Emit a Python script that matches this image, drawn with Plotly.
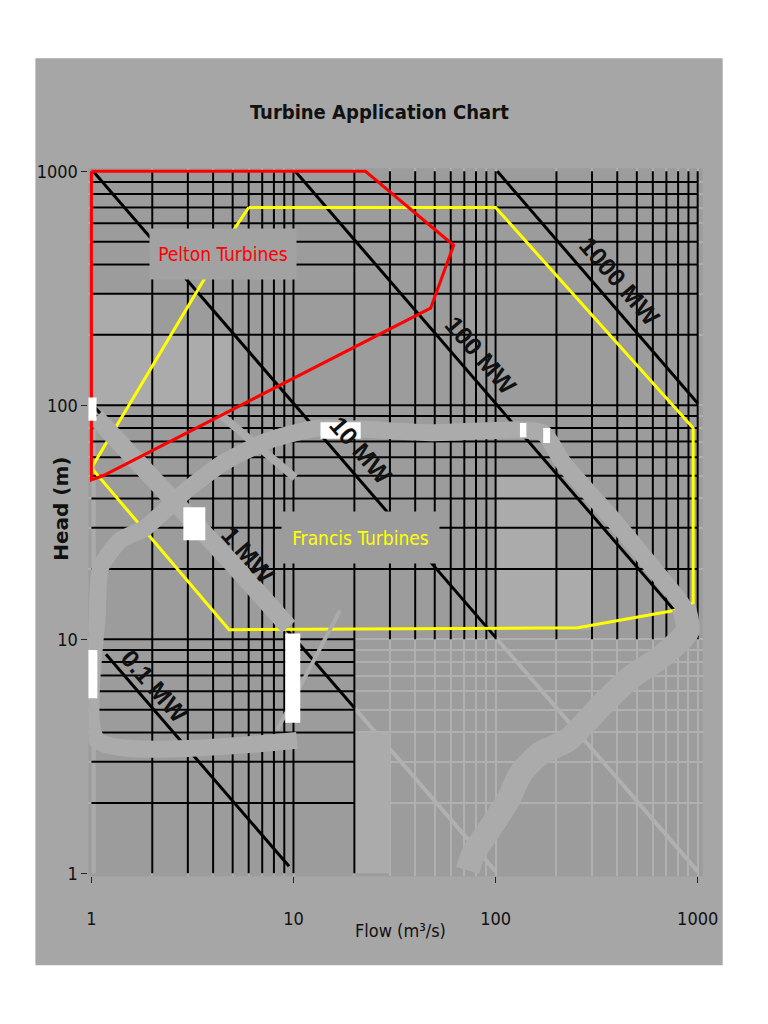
import numpy as np
import plotly.graph_objects as go

# axis ticks and grid (log decades)
tick_vals = [1, 10, 100, 1000]
tick_text = ["1", "10", "100", "1000"]
grid_vals = [2, 3, 4, 5, 6, 7, 8, 9, 10, 20, 30, 40, 50, 60, 70, 80, 90,
             100, 200, 300, 400, 500, 600, 700, 800, 900, 1000]

# power lines  P[kW] = 9.81 * Q * H
power_mw = [0.1, 1, 10, 100, 1000]
power_text = ["0.1 MW", "1 MW", "10 MW", "100 MW", "1000 MW"]
power_q_from = [1.18, 1.0, 1.02, 10.2, 102]
power_q_to = [9.5, 20, 100, 1000, 1000]
label_q = [2.05, 5.98, 21.5, 84.3, 411]
label_h = [6.3, 22.9, 64.2, 163.6, 339]
# faded parts of the lines in the lower right corner
fade_mw = [1, 10]
fade_q_from = [20, 100]
fade_q_to = [100, 1000]

# Pelton envelope
pelton_q = [1, 22.7, 62, 47.7, 1.14, 1, 1]
pelton_h = [1000, 1000, 483, 260, 50, 48, 1000]

# Francis envelope
francis_q = [6.0, 100, 950, 950, 778, 255, 4.8, 1, 5.05, 6.0]
francis_h = [700, 700, 80, 14.3, 13.3, 11.2, 11, 54, 560, 700]

# erased kaplan outline (thick grey band)
kaplan_q = [10.4, 1.07, 1.07, 1.11, 1.39, 1.85, 2.92, 4.45, 7.5, 13.3, 47.7, 132, 173,
            217, 384, 634, 853, 892]
kaplan_h = [3.7, 3.7, 12.9, 20.3, 26.5, 30, 43, 56.5, 70.8, 79.8, 76.4, 78.5, 76,
            56.5, 32.3, 19.1, 13.7, 10.9]
kaplan_low_q = [853, 892, 656, 466, 342, 227, 167, 133, 115, 94.5, 77.8, 72.8]
kaplan_low_h = [13.7, 10.9, 8.38, 6.88, 5.33, 3.7, 3.26, 2.67, 2.05, 1.57, 1.22, 1.03]
band_q = [1.05, 1.85, 2.92, 5.17, 9.45]
band_h = [89, 52.7, 34.5, 20.3, 11.3]
streak_q = [[8.3, 17.0], [4.3, 10.2]]
streak_h = [[4.1, 13.3], [92, 49]]

# lighter background patches  (q0, q1, h0, h1)
patch_q0 = [1.0, 2.0, 100, 200, 20, 1.0]
patch_q1 = [2.0, 5.0, 200, 300, 30, 1.05]
patch_h0 = [100, 100, 11, 11, 1.0, 1.0]
patch_h1 = [300, 200, 50, 20, 4.0, 100]

# white erasure blobs  (q0, q1, h0, h1)
blob_q0 = [0.94, 2.85, 13.6, 132, 172, 0.93, 9.1]
blob_q1 = [1.06, 3.66, 21.5, 142, 186, 1.07, 10.8]
blob_h0 = [86, 26.5, 72, 73, 69, 5.6, 4.4]
blob_h1 = [108, 36.7, 84.7, 84, 80, 9.0, 10.6]

NARROW = "Liberation Sans Narrow, Arial Narrow, DejaVu Sans Condensed, sans-serif"
ARIAL = "Liberation Sans, Arial, sans-serif"
BG = "#9c9c9c"
FRAME = "#a6a6a6"
LIGHT = "#ababab"

W, H = 752, 1008
# measured mapping of figure px -> picture px in the screenshot
AX, BX = 9.6, 0.977
AY, BY = 15.75, 0.985


def px(x):
    return (x - AX) / BX / W


def py(y):
    return 1 - (y - AY) / BY / H


def head(mw, q):
    return mw * 1000 / (9.81 * q)


def rect(q0, q1, h0, h1):
    return [q0, q1, q1, q0, q0], [h0, h0, h1, h1, h0]


fig = go.Figure()

# faded power lines
for mw, qa, qb in zip(fade_mw, fade_q_from, fade_q_to):
    fig.add_trace(go.Scatter(x=[qa, qb], y=[head(mw, qa), head(mw, qb)], mode="lines",
                             line=dict(color="#b0b0b0", width=4), hoverinfo="skip"))

# light patches
for q0, q1, h0, h1 in zip(patch_q0, patch_q1, patch_h0, patch_h1):
    xs, ys = rect(q0, q1, h0, h1)
    fig.add_trace(go.Scatter(x=xs, y=ys, mode="lines", fill="toself", fillcolor=LIGHT,
                             line=dict(width=0, color=LIGHT), hoverinfo="skip"))

# black grid
gx, gy = [], []
for v in grid_vals:
    lo = 10 if v > 20 else 1
    gx += [v, v, None]
    gy += [lo, 1000, None]
for v in grid_vals[:-1]:
    hi = 20 if v <= 10 else 1000
    gx += [1, hi, None]
    gy += [v, v, None]
fig.add_trace(go.Scatter(x=gx, y=gy, mode="lines", line=dict(color="black", width=2),
                         hoverinfo="skip"))

# black power lines
for mw, qa, qb in zip(power_mw, power_q_from, power_q_to):
    fig.add_trace(go.Scatter(x=[qa, qb], y=[head(mw, qa), head(mw, qb)], mode="lines",
                             line=dict(color="black", width=3), hoverinfo="skip"))

# Francis envelope
fig.add_trace(go.Scatter(x=francis_q, y=francis_h, mode="lines",
                         line=dict(color="#ffff00", width=3), hoverinfo="skip"))

# grey bands
fig.add_trace(go.Scatter(x=kaplan_q, y=kaplan_h, mode="lines",
                         line=dict(color=LIGHT, width=17, shape="spline", smoothing=0.6),
                         hoverinfo="skip"))
fig.add_trace(go.Scatter(x=kaplan_low_q, y=kaplan_low_h, mode="lines",
                         line=dict(color=LIGHT, width=24, shape="spline", smoothing=0.6),
                         hoverinfo="skip"))
fig.add_trace(go.Scatter(x=band_q, y=band_h, mode="lines",
                         line=dict(color=LIGHT, width=18, shape="spline"), hoverinfo="skip"))
for sq, sh, w in zip(streak_q, streak_h, [4, 8]):
    fig.add_trace(go.Scatter(x=sq, y=sh, mode="lines", line=dict(color=LIGHT, width=w),
                             hoverinfo="skip"))

# Pelton envelope
fig.add_trace(go.Scatter(x=pelton_q, y=pelton_h, mode="lines",
                         line=dict(color="#ff0000", width=3), hoverinfo="skip"))

# white blobs
for q0, q1, h0, h1 in zip(blob_q0, blob_q1, blob_h0, blob_h1):
    xs, ys = rect(q0, q1, h0, h1)
    fig.add_trace(go.Scatter(x=xs, y=ys, mode="lines", fill="toself", fillcolor="white",
                             line=dict(width=0, color="white"), hoverinfo="skip"))

# power labels
for txt, q, h in zip(power_text, label_q, label_h):
    fig.add_annotation(x=np.log10(q), y=np.log10(h), xref="x", yref="y", text="<b>" + txt + "</b>",
                       showarrow=False, textangle=49, xanchor="center", yanchor="middle",
                       font=dict(family=ARIAL, size=25, color="#111111"))

fig.add_annotation(x=np.log10(4.5), y=np.log10(442), xref="x", yref="y",
                   text="Pelton Turbines", showarrow=False, bgcolor="#a2a2a2",
                   width=144, height=48, xanchor="center", yanchor="middle",
                   font=dict(family=NARROW, size=19, color="#ff0000"))
fig.add_annotation(x=np.log10(21.5), y=np.log10(27.3), xref="x", yref="y",
                   text="Francis Turbines", showarrow=False, bgcolor=BG,
                   width=155, height=49, xanchor="center", yanchor="middle",
                   font=dict(family=NARROW, size=19, color="#ffff00"))

# titles
fig.add_annotation(x=px(379), y=py(112), xref="paper", yref="paper",
                   text="<b>Turbine Application Chart</b>", showarrow=False,
                   xanchor="center", yanchor="middle",
                   font=dict(family=NARROW, size=20, color="#111111"))
fig.add_annotation(x=px(61), y=py(508), xref="paper", yref="paper",
                   text="<b>Head (m)</b>", showarrow=False, textangle=-90,
                   xanchor="center", yanchor="middle",
                   font=dict(family="DejaVu Sans", size=20, color="#111111"))
fig.add_annotation(x=px(400), y=py(930), xref="paper", yref="paper",
                   text="Flow (m³/s)", showarrow=False, xanchor="center", yanchor="middle",
                   font=dict(family=NARROW, size=18, color="#111111"))

# white page margins around the grey frame
for x0, x1, y0, y1 in [(-0.05, 1.05, -0.05, py(965)), (-0.05, 1.05, py(58), 1.05),
                       (-0.05, px(35), -0.05, 1.05), (px(722), 1.05, -0.05, 1.05)]:
    fig.add_shape(type="rect", xref="paper", yref="paper", x0=x0, x1=x1, y0=y0, y1=y1,
                  fillcolor="white", line=dict(width=0), layer="below")

axis_common = dict(type="log", tickvals=tick_vals, ticktext=tick_text, ticks="outside",
                   ticklen=6, tickwidth=1, tickcolor="#222222", showgrid=False,
                   zeroline=False, showline=False,
                   tickfont=dict(family=NARROW, size=18, color="#111111"))

fig.update_layout(
    width=W, height=H,
    margin=dict(l=0, r=0, t=0, b=0),
    paper_bgcolor=FRAME, plot_bgcolor=BG,
    showlegend=False, hovermode=False,
    xaxis=dict(axis_common, range=[-3 / 202, 3 + 5 / 202], domain=[px(88), px(702)],
               ticklabelstandoff=20,
               minor=dict(tickvals=grid_vals, showgrid=True, gridcolor="#b0b0b0",
                          gridwidth=2, ticks="")),
    yaxis=dict(axis_common, range=[-3 / 234, 3 + 3 / 234],
               domain=[py(876), py(168)], ticklabelstandoff=0,
               minor=dict(tickvals=grid_vals[:-1], showgrid=True, gridcolor="#b0b0b0",
                          gridwidth=2, ticks="")),
)

fig.write_html("out.html")
